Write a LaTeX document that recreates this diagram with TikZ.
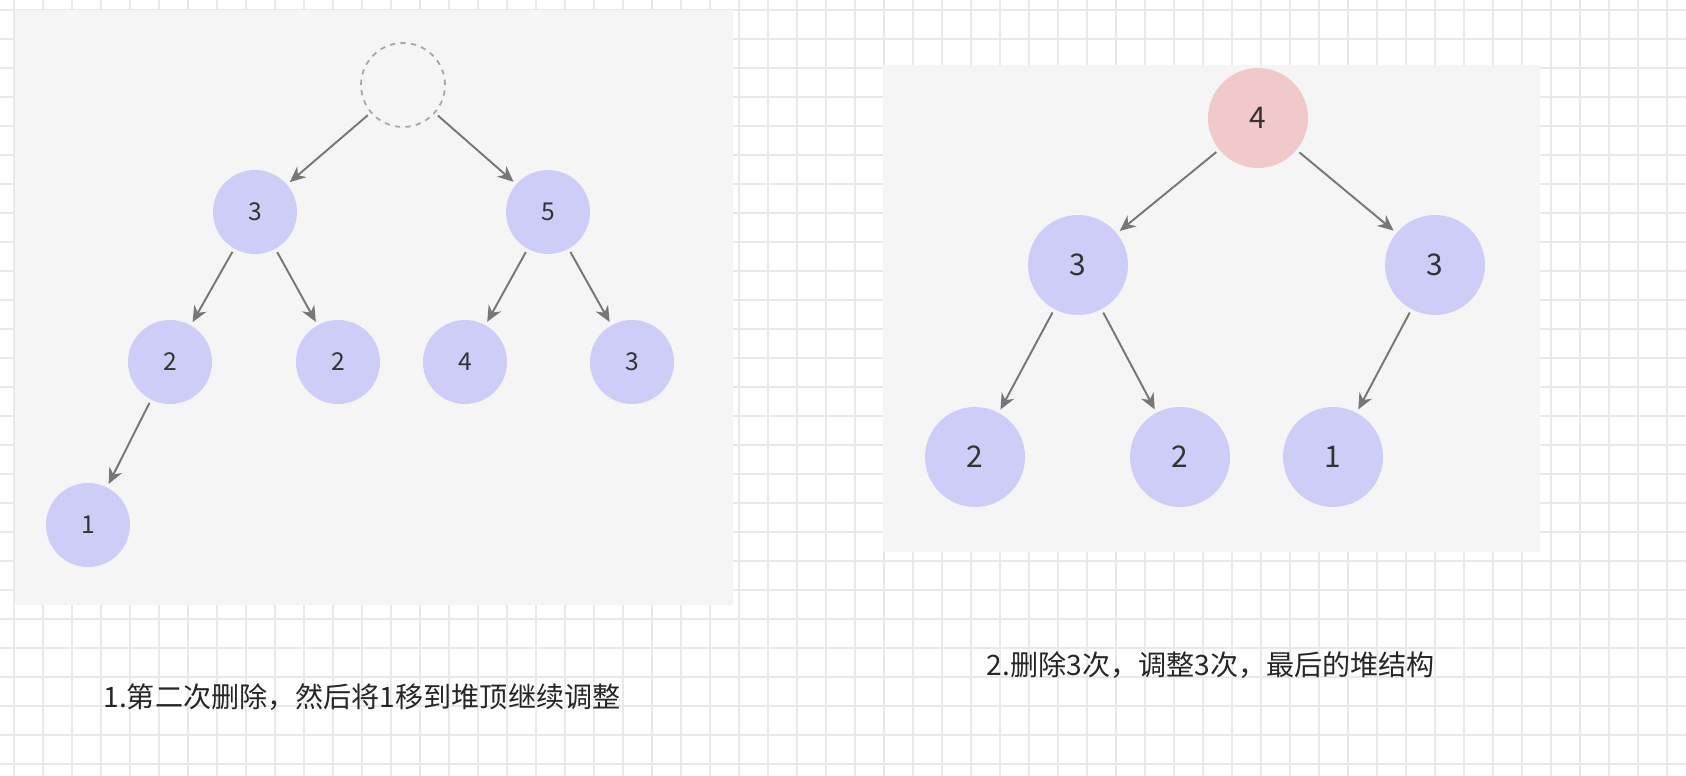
\documentclass[tikz,border=0pt]{standalone}
\usepackage{fontspec}
\setmainfont{Noto Sans CJK SC}
\usetikzlibrary{arrows.meta}
\definecolor{nodeblue}{HTML}{CDCDF7}
\definecolor{nodepink}{HTML}{F0CACA}
\definecolor{gridc}{HTML}{E9E9E9}
\definecolor{panel}{HTML}{F5F5F5}
\definecolor{edgec}{HTML}{777777}
\begin{document}
\begin{tikzpicture}[x=0.02cm,y=-0.02cm,
  hn/.style={circle,fill=nodeblue,minimum size=1.68cm,inner sep=0pt,font=\fontsize{14}{14}\selectfont,text=black!80},
  hb/.style={hn,minimum size=2.0cm,font=\fontsize{17}{17}\selectfont},
  ed/.style={draw=edgec,line width=1.1pt,-{Stealth[length=9pt,width=8pt]},shorten >=2pt,shorten <=2pt},
  lab/.style={font=\fontsize{16}{16}\selectfont,text=black!85}]
\useasboundingbox (0,0) rectangle (1686,776);
\fill[white] (0,0) rectangle (1686,776);
\foreach \i in {0,...,58} \draw[gridc,line width=0.6pt] ({14+29*\i},0) -- ({14+29*\i},776);
\foreach \j in {0,...,27} \draw[gridc,line width=0.6pt] (0,{10+29*\j}) -- (1686,{10+29*\j});
\fill[panel] (15,10) rectangle (733,605);
\fill[panel] (883,65) rectangle (1540,552);
% left tree
\node[hn,fill=none,draw=gray!70,dashed,line width=1pt] (r) at (403,85) {};
\node[hn] (a) at (255,212) {3};
\node[hn] (b) at (548,212) {5};
\node[hn] (c) at (170,362) {2};
\node[hn] (d) at (338,362) {2};
\node[hn] (e) at (465,362) {4};
\node[hn] (f) at (632,362) {3};
\node[hn] (g) at (88,525) {1};
\draw[ed] (r) -- (a); \draw[ed] (r) -- (b);
\draw[ed] (a) -- (c); \draw[ed] (a) -- (d);
\draw[ed] (b) -- (e); \draw[ed] (b) -- (f);
\draw[ed] (c) -- (g);
% right tree
\node[hb,fill=nodepink] (R) at (1258,118) {4};
\node[hb] (A) at (1078,265) {3};
\node[hb] (B) at (1435,265) {3};
\node[hb] (C) at (975,457) {2};
\node[hb] (D) at (1180,457) {2};
\node[hb] (E) at (1333,457) {1};
\draw[ed] (R) -- (A); \draw[ed] (R) -- (B);
\draw[ed] (A) -- (C); \draw[ed] (A) -- (D);
\draw[ed] (B) -- (E);
\node[lab] (t1) at (362,697) {1.第二次删除，然后将1移到堆顶继续调整};
\node[lab] (t2) at (1211,665) {2.删除3次，调整3次，最后的堆结构};
\end{tikzpicture}
\end{document}
